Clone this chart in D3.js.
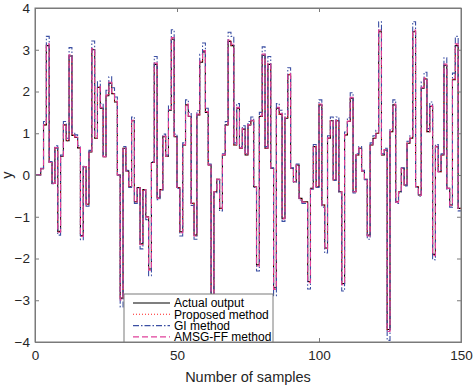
<!DOCTYPE html>
<html>
<head>
<meta charset="utf-8">
<script src="https://cdn.jsdelivr.net/npm/d3@7"></script>
<style>
  body { margin: 0; background: #fff; }
  text { font-family: "Liberation Sans", Arial, sans-serif; }
</style>
</head>
<body>
<div id="plot"></div>
<script>
// values, one per sample (0..149)
const actual = [0.0, 0.0, 0.15, 1.2, 3.1, 0.3, -0.2, 0.65, -1.35, 0.45,
  1.2, 0.82, 2.85, 0.95, 0.9, 0.65, -1.45, 0.2, -0.7, 0.55,
  3.0, 0.88, 2.1, 1.6, 0.44, 1.9, 2.2, 1.95, 1.75, 0.0,
  -2.95, 0.64, 0.1, -0.28, 1.3, -0.64, -0.3, -1.65, -0.35, -1.0,
  -2.25, 0.3, 2.65, -0.55, -0.35, 0.92, 0.45, 1.55, 3.25, 0.92,
  -0.3, -1.36, 0.72, 1.68, 1.4, -0.68, -1.44, 1.44, 2.7, 2.95,
  1.5, 0.24, -2.9, -0.4, -0.1, -0.8, 0.48, 1.2, 3.2, 3.1,
  0.72, 1.6, 0.64, 1.1, 0.48, 1.2, 1.3, -0.28, -2.15, 1.4,
  2.87, 0.64, 2.65, 0.16, -2.7, 1.6, 1.45, -1.04, 1.36, 2.4,
  0.16, -0.16, 0.24, -0.56, -0.64, -0.64, -2.55, -0.32, 0.68, -0.28,
  1.68, -0.72, -1.75, 0.88, 1.3, -0.12, 1.3, -0.4, -2.6, 0.96,
  1.28, 1.84, -0.4, 0.48, 0.64, 0.1, -0.1, -1.44, 0.72, 0.88,
  1.0, 3.43, 0.48, 0.6, -3.7, 1.04, 1.68, -0.64, -0.4, 0.16,
  -0.24, 0.76, 0.88, 3.43, -0.28, -0.48, 2.08, 2.3, 1.04, 1.64,
  -1.9, 0.68, 0.08, 0.48, 2.63, -0.32, -0.72, 2.28, 3.1, -0.8];

const proposed = [0.0, 0.0, 0.15, 1.2, 3.12, 0.3, -0.2, 0.65, -1.36, 0.45,
  1.2, 0.82, 2.86, 0.95, 0.9, 0.65, -1.46, 0.2, -0.7, 0.55,
  3.01, 0.88, 2.1, 1.6, 0.44, 1.9, 2.21, 1.95, 1.75, 0.0,
  -2.97, 0.64, 0.1, -0.28, 1.3, -0.64, -0.3, -1.66, -0.35, -1.0,
  -2.26, 0.3, 2.66, -0.55, -0.35, 0.92, 0.45, 1.55, 3.27, 0.92,
  -0.3, -1.37, 0.72, 1.68, 1.4, -0.68, -1.45, 1.44, 2.71, 2.96,
  1.5, 0.24, -2.92, -0.4, -0.1, -0.8, 0.48, 1.2, 3.22, 3.11,
  0.72, 1.6, 0.64, 1.1, 0.48, 1.2, 1.3, -0.28, -2.16, 1.4,
  2.88, 0.64, 2.66, 0.16, -2.72, 1.6, 1.45, -1.04, 1.36, 2.41,
  0.16, -0.16, 0.24, -0.56, -0.64, -0.64, -2.56, -0.32, 0.68, -0.28,
  1.68, -0.72, -1.76, 0.88, 1.3, -0.12, 1.3, -0.4, -2.61, 0.96,
  1.28, 1.85, -0.4, 0.48, 0.64, 0.1, -0.1, -1.45, 0.72, 0.88,
  1.0, 3.45, 0.48, 0.6, -3.72, 1.04, 1.68, -0.64, -0.4, 0.16,
  -0.24, 0.76, 0.88, 3.45, -0.28, -0.48, 2.09, 2.31, 1.04, 1.64,
  -1.91, 0.68, 0.08, 0.48, 2.64, -0.32, -0.72, 2.29, 3.12, -0.8];

const giMethod = [0.0, 0.0, 0.16, 1.28, 3.32, 0.32, -0.21, 0.7, -1.44, 0.48,
  1.28, 0.88, 3.05, 1.02, 0.96, 0.7, -1.55, 0.21, -0.75, 0.59,
  3.21, 0.94, 2.25, 1.71, 0.47, 2.03, 2.35, 2.09, 1.87, 0.0,
  -3.16, 0.68, 0.11, -0.3, 1.39, -0.68, -0.32, -1.77, -0.37, -1.07,
  -2.41, 0.32, 2.84, -0.59, -0.37, 0.98, 0.48, 1.66, 3.48, 0.98,
  -0.32, -1.46, 0.77, 1.8, 1.5, -0.73, -1.54, 1.54, 2.89, 3.16,
  1.6, 0.26, -3.1, -0.43, -0.11, -0.86, 0.51, 1.28, 3.42, 3.32,
  0.77, 1.71, 0.68, 1.18, 0.51, 1.28, 1.39, -0.3, -2.3, 1.5,
  3.07, 0.68, 2.84, 0.17, -2.89, 1.71, 1.55, -1.11, 1.46, 2.57,
  0.17, -0.17, 0.26, -0.6, -0.68, -0.68, -2.73, -0.34, 0.73, -0.3,
  1.8, -0.77, -1.87, 0.94, 1.39, -0.13, 1.39, -0.43, -2.78, 1.03,
  1.37, 1.97, -0.43, 0.51, 0.68, 0.11, -0.11, -1.54, 0.77, 0.94,
  1.07, 3.67, 0.51, 0.64, -3.96, 1.11, 1.8, -0.68, -0.43, 0.17,
  -0.26, 0.81, 0.94, 3.67, -0.3, -0.51, 2.23, 2.46, 1.11, 1.75,
  -2.03, 0.73, 0.09, 0.51, 2.81, -0.34, -0.77, 2.44, 3.32, -0.86];

const amsgff = [0.0, 0.0, 0.15, 1.21, 3.14, 0.3, -0.2, 0.66, -1.37, 0.45,
  1.21, 0.83, 2.88, 0.96, 0.91, 0.66, -1.47, 0.2, -0.71, 0.56,
  3.03, 0.89, 2.12, 1.62, 0.44, 1.92, 2.22, 1.97, 1.77, 0.0,
  -2.99, 0.65, 0.1, -0.28, 1.31, -0.65, -0.3, -1.67, -0.35, -1.01,
  -2.28, 0.3, 2.68, -0.56, -0.35, 0.93, 0.45, 1.57, 3.29, 0.93,
  -0.3, -1.38, 0.73, 1.7, 1.41, -0.69, -1.46, 1.46, 2.73, 2.98,
  1.52, 0.24, -2.94, -0.4, -0.1, -0.81, 0.49, 1.21, 3.24, 3.13,
  0.73, 1.62, 0.65, 1.11, 0.49, 1.21, 1.31, -0.28, -2.18, 1.42,
  2.9, 0.65, 2.68, 0.16, -2.74, 1.62, 1.47, -1.05, 1.38, 2.43,
  0.16, -0.16, 0.24, -0.57, -0.65, -0.65, -2.58, -0.32, 0.69, -0.28,
  1.7, -0.73, -1.77, 0.89, 1.31, -0.12, 1.31, -0.4, -2.63, 0.97,
  1.29, 1.86, -0.4, 0.49, 0.65, 0.1, -0.1, -1.46, 0.73, 0.89,
  1.01, 3.47, 0.49, 0.61, -3.75, 1.05, 1.7, -0.65, -0.4, 0.16,
  -0.24, 0.77, 0.89, 3.47, -0.28, -0.49, 2.1, 2.33, 1.05, 1.66,
  -1.93, 0.69, 0.08, 0.49, 2.66, -0.32, -0.73, 2.31, 3.14, -0.81];

const xTicks = [0, 50, 100, 150];
const yTicks = [-4, -3, -2, -1, 0, 1, 2, 3, 4];

const w = 474;
const h = 387;
const margin = {top: 8, right: 13, bottom: 45, left: 35};
const innerWidth = w - margin.left - margin.right;
const innerHeight = h - margin.top - margin.bottom;

const svg = d3.select("#plot")
  .append("svg")
    .attr("width", w)
    .attr("height", h);

const xScale = d3.scaleLinear()
    .domain([0, 150])
    .range([0, innerWidth]);

const yScale = d3.scaleLinear()
    .domain([-4, 4])
    .range([innerHeight, 0]);

const g = svg.append("g")
    .attr("transform", `translate(${margin.left}, ${margin.top})`);

svg.append("defs").append("clipPath")
    .attr("id", "clip")
  .append("rect")
    .attr("width", innerWidth)
    .attr("height", innerHeight);

// series, drawn in legend order so the magenta dashes sit on top
const series = [
  {name: "Actual output", values: actual, color: "#000000", dash: null},
  {name: "Proposed method", values: proposed, color: "#ff2020", dash: "1,2"},
  {name: "GI method", values: giMethod, color: "#3b4fa3", dash: "6,2,1.5,2"},
  {name: "AMSG-FF method", values: amsgff, color: "#e0409a", dash: "6,3"}
];

const line = d3.line()
    .x(d => xScale(d[0]))
    .y(d => yScale(d[1]))
    .curve(d3.curveStepAfter);

const lines = g.append("g").attr("clip-path", "url(#clip)");

series.forEach(s => {
  const pts = s.values.map((v, i) => [i, v]);
  pts.push([s.values.length, s.values[s.values.length - 1]]);
  lines.append("path")
      .attr("d", line(pts))
      .attr("fill", "none")
      .attr("stroke", s.color)
      .attr("stroke-width", 1.1)
      .attr("stroke-dasharray", s.dash);
});

// axes, MATLAB style: ticks inward on all four sides
const axisColor = "#7a7a7a";

g.append("g")
    .attr("transform", `translate(0, ${innerHeight})`)
    .call(d3.axisBottom(xScale).tickValues(xTicks).tickSize(-4).tickPadding(8));
g.append("g")
    .call(d3.axisLeft(yScale).tickValues(yTicks).tickSize(-4).tickPadding(5));

// top / right ticks only, no labels
g.append("g")
    .call(d3.axisTop(xScale).tickValues(xTicks).tickSize(-4))
    .selectAll("text").remove();
g.append("g")
    .attr("transform", `translate(${innerWidth}, 0)`)
    .call(d3.axisRight(yScale).tickValues(yTicks).tickSize(-4))
    .selectAll("text").remove();

g.selectAll(".domain, .tick line").attr("stroke", axisColor);
g.selectAll(".tick text")
    .attr("fill", "#262626")
    .style("font-size", "13.5px");

g.append("rect")
    .attr("width", innerWidth)
    .attr("height", innerHeight)
    .attr("fill", "none")
    .attr("stroke", axisColor);

// axis labels
svg.append("text")
    .attr("x", margin.left + innerWidth / 2)
    .attr("y", 382)
    .attr("text-anchor", "middle")
    .attr("fill", "#262626")
    .style("font-size", "14.5px")
    .text("Number of samples");

svg.append("text")
    .attr("transform", `translate(12, ${margin.top + innerHeight / 2}) rotate(-90)`)
    .attr("text-anchor", "middle")
    .attr("fill", "#262626")
    .style("font-size", "14.5px")
    .text("y");

// legend
const legend = g.append("g")
    .attr("transform", `translate(89, ${innerHeight - 48})`);

legend.append("rect")
    .attr("width", 149)
    .attr("height", 48)
    .attr("fill", "#fff")
    .attr("stroke", axisColor);

series.forEach((s, i) => {
  const yy = 9 + i * 11.3;
  legend.append("line")
      .attr("x1", 9).attr("x2", 46)
      .attr("y1", yy).attr("y2", yy)
      .attr("stroke", s.color)
      .attr("stroke-width", 1.1)
      .attr("stroke-dasharray", s.dash);
  legend.append("text")
      .attr("x", 50)
      .attr("y", yy + 4.2)
      .style("font-size", "12px")
      .text(s.name);
});
</script>
</body>
</html>
